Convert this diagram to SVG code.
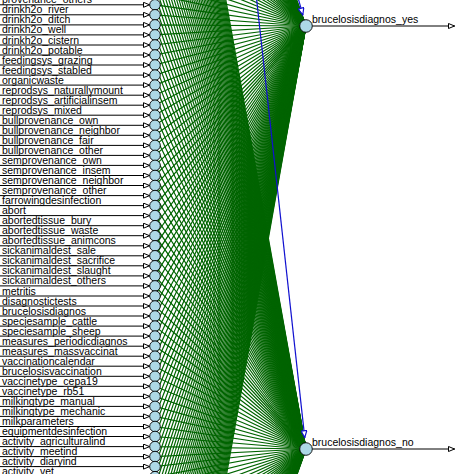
<svg xmlns="http://www.w3.org/2000/svg" width="474" height="474" viewBox="0 0 474 474">
<style>
.lbl{font-family:"Liberation Sans",Arial,sans-serif;font-size:10.5px;fill:#000}
.in{fill:#add8e6;stroke:#000;stroke-width:0.9}
.ent{stroke:#000;stroke-width:1;fill:none}
.syn path{fill:none;stroke:#006400;stroke-width:1.2}
.bias{stroke:#1010d0;stroke-width:1.2;fill:none}
</style>
<defs>
<marker id="ah" viewBox="0 0 7 6" refX="7" refY="3" markerWidth="7" markerHeight="6" markerUnits="userSpaceOnUse" orient="auto">
<path d="M0.5 0.5L6.5 3L0.5 5.5Z" fill="#fff" stroke="#000" stroke-width="1"/>
</marker>
<marker id="bh" viewBox="0 0 8 7" refX="8" refY="3.5" markerWidth="8" markerHeight="7" markerUnits="userSpaceOnUse" orient="auto">
<path d="M0.6 0.6L7.4 3.5L0.6 6.4Z" fill="#fff" stroke="#1010d0" stroke-width="1.2"/>
</marker>
</defs>
<rect width="474" height="474" fill="#fff"/>
<g id="connectors">
<g class="syn">
<path d="M306 26L155 -396.8L306 449"/><path d="M306 26L155 -386.8L306 449"/><path d="M306 26L155 -376.7L306 449"/><path d="M306 26L155 -366.7L306 449"/>
<path d="M306 26L155 -356.6L306 449"/><path d="M306 26L155 -346.6L306 449"/><path d="M306 26L155 -336.6L306 449"/><path d="M306 26L155 -326.5L306 449"/>
<path d="M306 26L155 -316.5L306 449"/><path d="M306 26L155 -306.4L306 449"/><path d="M306 26L155 -296.4L306 449"/><path d="M306 26L155 -286.4L306 449"/>
<path d="M306 26L155 -276.3L306 449"/><path d="M306 26L155 -266.3L306 449"/><path d="M306 26L155 -256.2L306 449"/><path d="M306 26L155 -246.2L306 449"/>
<path d="M306 26L155 -236.2L306 449"/><path d="M306 26L155 -226.1L306 449"/><path d="M306 26L155 -216.1L306 449"/><path d="M306 26L155 -206.0L306 449"/>
<path d="M306 26L155 -196.0L306 449"/><path d="M306 26L155 -186.0L306 449"/><path d="M306 26L155 -175.9L306 449"/><path d="M306 26L155 -165.9L306 449"/>
<path d="M306 26L155 -155.8L306 449"/><path d="M306 26L155 -145.8L306 449"/><path d="M306 26L155 -135.8L306 449"/><path d="M306 26L155 -125.7L306 449"/>
<path d="M306 26L155 -115.7L306 449"/><path d="M306 26L155 -105.6L306 449"/><path d="M306 26L155 -95.6L306 449"/><path d="M306 26L155 -85.6L306 449"/>
<path d="M306 26L155 -75.5L306 449"/><path d="M306 26L155 -65.5L306 449"/><path d="M306 26L155 -55.4L306 449"/><path d="M306 26L155 -45.4L306 449"/>
<path d="M306 26L155 -35.4L306 449"/><path d="M306 26L155 -25.3L306 449"/><path d="M306 26L155 -15.3L306 449"/><path d="M306 26L155 -5.2L306 449"/>
<path d="M306 26L155 4.8L306 449"/><path d="M306 26L155 14.8L306 449"/><path d="M306 26L155 24.9L306 449"/><path d="M306 26L155 34.9L306 449"/>
<path d="M306 26L155 45.0L306 449"/><path d="M306 26L155 55.0L306 449"/><path d="M306 26L155 65.0L306 449"/><path d="M306 26L155 75.1L306 449"/>
<path d="M306 26L155 85.1L306 449"/><path d="M306 26L155 95.2L306 449"/><path d="M306 26L155 105.2L306 449"/><path d="M306 26L155 115.2L306 449"/>
<path d="M306 26L155 125.3L306 449"/><path d="M306 26L155 135.3L306 449"/><path d="M306 26L155 145.4L306 449"/><path d="M306 26L155 155.4L306 449"/>
<path d="M306 26L155 165.4L306 449"/><path d="M306 26L155 175.5L306 449"/><path d="M306 26L155 185.5L306 449"/><path d="M306 26L155 195.6L306 449"/>
<path d="M306 26L155 205.6L306 449"/><path d="M306 26L155 215.6L306 449"/><path d="M306 26L155 225.7L306 449"/><path d="M306 26L155 235.7L306 449"/>
<path d="M306 26L155 245.8L306 449"/><path d="M306 26L155 255.8L306 449"/><path d="M306 26L155 265.8L306 449"/><path d="M306 26L155 275.9L306 449"/>
<path d="M306 26L155 285.9L306 449"/><path d="M306 26L155 296.0L306 449"/><path d="M306 26L155 306.0L306 449"/><path d="M306 26L155 316.0L306 449"/>
<path d="M306 26L155 326.1L306 449"/><path d="M306 26L155 336.1L306 449"/><path d="M306 26L155 346.2L306 449"/><path d="M306 26L155 356.2L306 449"/>
<path d="M306 26L155 366.2L306 449"/><path d="M306 26L155 376.3L306 449"/><path d="M306 26L155 386.3L306 449"/><path d="M306 26L155 396.4L306 449"/>
<path d="M306 26L155 406.4L306 449"/><path d="M306 26L155 416.4L306 449"/><path d="M306 26L155 426.5L306 449"/><path d="M306 26L155 436.5L306 449"/>
<path d="M306 26L155 446.6L306 449"/><path d="M306 26L155 456.6L306 449"/><path d="M306 26L155 466.6L306 449"/><path d="M306 26L155 476.7L306 449"/>
<path d="M306 26L155 486.7L306 449"/><path d="M306 26L155 496.8L306 449"/><path d="M306 26L155 506.8L306 449"/><path d="M306 26L155 516.8L306 449"/>
<path d="M306 26L155 526.9L306 449"/><path d="M306 26L155 536.9L306 449"/><path d="M306 26L155 547.0L306 449"/><path d="M306 26L155 557.0L306 449"/>
<path d="M306 26L155 567.0L306 449"/><path d="M306 26L155 577.1L306 449"/><path d="M306 26L155 587.1L306 449"/><path d="M306 26L155 597.2L306 449"/>
<path d="M306 26L155 607.2L306 449"/><path d="M306 26L155 617.2L306 449"/><path d="M306 26L155 627.3L306 449"/><path d="M306 26L155 637.3L306 449"/>
<path d="M306 26L155 647.4L306 449"/><path d="M306 26L155 657.4L306 449"/><path d="M306 26L155 667.4L306 449"/><path d="M306 26L155 677.5L306 449"/>
<path d="M306 26L155 687.5L306 449"/><path d="M306 26L155 697.6L306 449"/><path d="M306 26L155 707.6L306 449"/><path d="M306 26L155 717.6L306 449"/>
<path d="M306 26L155 727.7L306 449"/><path d="M306 26L155 737.7L306 449"/><path d="M306 26L155 747.8L306 449"/><path d="M306 26L155 757.8L306 449"/>
<path d="M306 26L155 767.8L306 449"/><path d="M306 26L155 777.9L306 449"/><path d="M306 26L155 787.9L306 449"/><path d="M306 26L155 798.0L306 449"/>
<path d="M306 26L155 808.0L306 449"/><path d="M306 26L155 818.0L306 449"/><path d="M306 26L155 828.1L306 449"/><path d="M306 26L155 838.1L306 449"/>
<path d="M306 26L155 848.2L306 449"/><path d="M306 26L155 858.2L306 449"/><path d="M306 26L155 868.2L306 449"/><path d="M306 26L155 878.3L306 449"/>
</g>
<line class="bias" x1="230" y1="-243" x2="303" y2="15.4" marker-end="url(#bh)"/>
<line class="bias" x1="230" y1="-243" x2="304.8" y2="438.1" marker-end="url(#bh)"/>
</g>
<g id="inputs">
<g id="n0"><line class="ent" x1="-5" y1="4.8" x2="150" y2="4.8" marker-end="url(#ah)"/><text class="lbl" x="2" y="3.3">provenance_others</text><circle class="in" cx="155" cy="4.8" r="5.3"/></g>
<g id="n1"><line class="ent" x1="-5" y1="14.8" x2="150" y2="14.8" marker-end="url(#ah)"/><text class="lbl" x="2" y="13.3">drinkh2o_river</text><circle class="in" cx="155" cy="14.8" r="5.3"/></g>
<g id="n2"><line class="ent" x1="-5" y1="24.9" x2="150" y2="24.9" marker-end="url(#ah)"/><text class="lbl" x="2" y="23.4">drinkh2o_ditch</text><circle class="in" cx="155" cy="24.9" r="5.3"/></g>
<g id="n3"><line class="ent" x1="-5" y1="34.9" x2="150" y2="34.9" marker-end="url(#ah)"/><text class="lbl" x="2" y="33.4">drinkh2o_well</text><circle class="in" cx="155" cy="34.9" r="5.3"/></g>
<g id="n4"><line class="ent" x1="-5" y1="45.0" x2="150" y2="45.0" marker-end="url(#ah)"/><text class="lbl" x="2" y="43.5">drinkh2o_cistern</text><circle class="in" cx="155" cy="45.0" r="5.3"/></g>
<g id="n5"><line class="ent" x1="-5" y1="55.0" x2="150" y2="55.0" marker-end="url(#ah)"/><text class="lbl" x="2" y="53.5">drinkh2o_potable</text><circle class="in" cx="155" cy="55.0" r="5.3"/></g>
<g id="n6"><line class="ent" x1="-5" y1="65.0" x2="150" y2="65.0" marker-end="url(#ah)"/><text class="lbl" x="2" y="63.5">feedingsys_grazing</text><circle class="in" cx="155" cy="65.0" r="5.3"/></g>
<g id="n7"><line class="ent" x1="-5" y1="75.1" x2="150" y2="75.1" marker-end="url(#ah)"/><text class="lbl" x="2" y="73.6">feedingsys_stabled</text><circle class="in" cx="155" cy="75.1" r="5.3"/></g>
<g id="n8"><line class="ent" x1="-5" y1="85.1" x2="150" y2="85.1" marker-end="url(#ah)"/><text class="lbl" x="2" y="83.6">organicwaste</text><circle class="in" cx="155" cy="85.1" r="5.3"/></g>
<g id="n9"><line class="ent" x1="-5" y1="95.2" x2="150" y2="95.2" marker-end="url(#ah)"/><text class="lbl" x="2" y="93.7">reprodsys_naturallymount</text><circle class="in" cx="155" cy="95.2" r="5.3"/></g>
<g id="n10"><line class="ent" x1="-5" y1="105.2" x2="150" y2="105.2" marker-end="url(#ah)"/><text class="lbl" x="2" y="103.7">reprodsys_artificialinsem</text><circle class="in" cx="155" cy="105.2" r="5.3"/></g>
<g id="n11"><line class="ent" x1="-5" y1="115.2" x2="150" y2="115.2" marker-end="url(#ah)"/><text class="lbl" x="2" y="113.7">reprodsys_mixed</text><circle class="in" cx="155" cy="115.2" r="5.3"/></g>
<g id="n12"><line class="ent" x1="-5" y1="125.3" x2="150" y2="125.3" marker-end="url(#ah)"/><text class="lbl" x="2" y="123.8">bullprovenance_own</text><circle class="in" cx="155" cy="125.3" r="5.3"/></g>
<g id="n13"><line class="ent" x1="-5" y1="135.3" x2="150" y2="135.3" marker-end="url(#ah)"/><text class="lbl" x="2" y="133.8">bullprovenance_neighbor</text><circle class="in" cx="155" cy="135.3" r="5.3"/></g>
<g id="n14"><line class="ent" x1="-5" y1="145.4" x2="150" y2="145.4" marker-end="url(#ah)"/><text class="lbl" x="2" y="143.9">bullprovenance_fair</text><circle class="in" cx="155" cy="145.4" r="5.3"/></g>
<g id="n15"><line class="ent" x1="-5" y1="155.4" x2="150" y2="155.4" marker-end="url(#ah)"/><text class="lbl" x="2" y="153.9">bullprovenance_other</text><circle class="in" cx="155" cy="155.4" r="5.3"/></g>
<g id="n16"><line class="ent" x1="-5" y1="165.4" x2="150" y2="165.4" marker-end="url(#ah)"/><text class="lbl" x="2" y="163.9">semprovenance_own</text><circle class="in" cx="155" cy="165.4" r="5.3"/></g>
<g id="n17"><line class="ent" x1="-5" y1="175.5" x2="150" y2="175.5" marker-end="url(#ah)"/><text class="lbl" x="2" y="174.0">semprovenance_insem</text><circle class="in" cx="155" cy="175.5" r="5.3"/></g>
<g id="n18"><line class="ent" x1="-5" y1="185.5" x2="150" y2="185.5" marker-end="url(#ah)"/><text class="lbl" x="2" y="184.0">semprovenance_neighbor</text><circle class="in" cx="155" cy="185.5" r="5.3"/></g>
<g id="n19"><line class="ent" x1="-5" y1="195.6" x2="150" y2="195.6" marker-end="url(#ah)"/><text class="lbl" x="2" y="194.1">semprovenance_other</text><circle class="in" cx="155" cy="195.6" r="5.3"/></g>
<g id="n20"><line class="ent" x1="-5" y1="205.6" x2="150" y2="205.6" marker-end="url(#ah)"/><text class="lbl" x="2" y="204.1">farrowingdesinfection</text><circle class="in" cx="155" cy="205.6" r="5.3"/></g>
<g id="n21"><line class="ent" x1="-5" y1="215.6" x2="150" y2="215.6" marker-end="url(#ah)"/><text class="lbl" x="2" y="214.1">abort</text><circle class="in" cx="155" cy="215.6" r="5.3"/></g>
<g id="n22"><line class="ent" x1="-5" y1="225.7" x2="150" y2="225.7" marker-end="url(#ah)"/><text class="lbl" x="2" y="224.2">abortedtissue_bury</text><circle class="in" cx="155" cy="225.7" r="5.3"/></g>
<g id="n23"><line class="ent" x1="-5" y1="235.7" x2="150" y2="235.7" marker-end="url(#ah)"/><text class="lbl" x="2" y="234.2">abortedtissue_waste</text><circle class="in" cx="155" cy="235.7" r="5.3"/></g>
<g id="n24"><line class="ent" x1="-5" y1="245.8" x2="150" y2="245.8" marker-end="url(#ah)"/><text class="lbl" x="2" y="244.3">abortedtissue_animcons</text><circle class="in" cx="155" cy="245.8" r="5.3"/></g>
<g id="n25"><line class="ent" x1="-5" y1="255.8" x2="150" y2="255.8" marker-end="url(#ah)"/><text class="lbl" x="2" y="254.3">sickanimaldest_sale</text><circle class="in" cx="155" cy="255.8" r="5.3"/></g>
<g id="n26"><line class="ent" x1="-5" y1="265.8" x2="150" y2="265.8" marker-end="url(#ah)"/><text class="lbl" x="2" y="264.3">sickanimaldest_sacrifice</text><circle class="in" cx="155" cy="265.8" r="5.3"/></g>
<g id="n27"><line class="ent" x1="-5" y1="275.9" x2="150" y2="275.9" marker-end="url(#ah)"/><text class="lbl" x="2" y="274.4">sickanimaldest_slaught</text><circle class="in" cx="155" cy="275.9" r="5.3"/></g>
<g id="n28"><line class="ent" x1="-5" y1="285.9" x2="150" y2="285.9" marker-end="url(#ah)"/><text class="lbl" x="2" y="284.4">sickanimaldest_others</text><circle class="in" cx="155" cy="285.9" r="5.3"/></g>
<g id="n29"><line class="ent" x1="-5" y1="296.0" x2="150" y2="296.0" marker-end="url(#ah)"/><text class="lbl" x="2" y="294.5">metritis</text><circle class="in" cx="155" cy="296.0" r="5.3"/></g>
<g id="n30"><line class="ent" x1="-5" y1="306.0" x2="150" y2="306.0" marker-end="url(#ah)"/><text class="lbl" x="2" y="304.5">disagnostictests</text><circle class="in" cx="155" cy="306.0" r="5.3"/></g>
<g id="n31"><line class="ent" x1="-5" y1="316.0" x2="150" y2="316.0" marker-end="url(#ah)"/><text class="lbl" x="2" y="314.5">brucelosisdiagnos</text><circle class="in" cx="155" cy="316.0" r="5.3"/></g>
<g id="n32"><line class="ent" x1="-5" y1="326.1" x2="150" y2="326.1" marker-end="url(#ah)"/><text class="lbl" x="2" y="324.6">speciesample_cattle</text><circle class="in" cx="155" cy="326.1" r="5.3"/></g>
<g id="n33"><line class="ent" x1="-5" y1="336.1" x2="150" y2="336.1" marker-end="url(#ah)"/><text class="lbl" x="2" y="334.6">speciesample_sheep</text><circle class="in" cx="155" cy="336.1" r="5.3"/></g>
<g id="n34"><line class="ent" x1="-5" y1="346.2" x2="150" y2="346.2" marker-end="url(#ah)"/><text class="lbl" x="2" y="344.7">measures_periodicdiagnos</text><circle class="in" cx="155" cy="346.2" r="5.3"/></g>
<g id="n35"><line class="ent" x1="-5" y1="356.2" x2="150" y2="356.2" marker-end="url(#ah)"/><text class="lbl" x="2" y="354.7">measures_massvaccinat</text><circle class="in" cx="155" cy="356.2" r="5.3"/></g>
<g id="n36"><line class="ent" x1="-5" y1="366.2" x2="150" y2="366.2" marker-end="url(#ah)"/><text class="lbl" x="2" y="364.7">vaccinationcalendar</text><circle class="in" cx="155" cy="366.2" r="5.3"/></g>
<g id="n37"><line class="ent" x1="-5" y1="376.3" x2="150" y2="376.3" marker-end="url(#ah)"/><text class="lbl" x="2" y="374.8">brucelosisvaccination</text><circle class="in" cx="155" cy="376.3" r="5.3"/></g>
<g id="n38"><line class="ent" x1="-5" y1="386.3" x2="150" y2="386.3" marker-end="url(#ah)"/><text class="lbl" x="2" y="384.8">vaccinetype_cepa19</text><circle class="in" cx="155" cy="386.3" r="5.3"/></g>
<g id="n39"><line class="ent" x1="-5" y1="396.4" x2="150" y2="396.4" marker-end="url(#ah)"/><text class="lbl" x="2" y="394.9">vaccinetype_rb51</text><circle class="in" cx="155" cy="396.4" r="5.3"/></g>
<g id="n40"><line class="ent" x1="-5" y1="406.4" x2="150" y2="406.4" marker-end="url(#ah)"/><text class="lbl" x="2" y="404.9">milkingtype_manual</text><circle class="in" cx="155" cy="406.4" r="5.3"/></g>
<g id="n41"><line class="ent" x1="-5" y1="416.4" x2="150" y2="416.4" marker-end="url(#ah)"/><text class="lbl" x="2" y="414.9">milkingtype_mechanic</text><circle class="in" cx="155" cy="416.4" r="5.3"/></g>
<g id="n42"><line class="ent" x1="-5" y1="426.5" x2="150" y2="426.5" marker-end="url(#ah)"/><text class="lbl" x="2" y="425.0">milkparameters</text><circle class="in" cx="155" cy="426.5" r="5.3"/></g>
<g id="n43"><line class="ent" x1="-5" y1="436.5" x2="150" y2="436.5" marker-end="url(#ah)"/><text class="lbl" x="2" y="435.0">equipmentdesinfection</text><circle class="in" cx="155" cy="436.5" r="5.3"/></g>
<g id="n44"><line class="ent" x1="-5" y1="446.6" x2="150" y2="446.6" marker-end="url(#ah)"/><text class="lbl" x="2" y="445.1">activity_agriculturalind</text><circle class="in" cx="155" cy="446.6" r="5.3"/></g>
<g id="n45"><line class="ent" x1="-5" y1="456.6" x2="150" y2="456.6" marker-end="url(#ah)"/><text class="lbl" x="2" y="455.1">activity_meetind</text><circle class="in" cx="155" cy="456.6" r="5.3"/></g>
<g id="n46"><line class="ent" x1="-5" y1="466.6" x2="150" y2="466.6" marker-end="url(#ah)"/><text class="lbl" x="2" y="465.1">activity_diaryind</text><circle class="in" cx="155" cy="466.6" r="5.3"/></g>
<g id="n47"><line class="ent" x1="-5" y1="476.7" x2="150" y2="476.7" marker-end="url(#ah)"/><text class="lbl" x="2" y="475.2">activity_vet</text><circle class="in" cx="155" cy="476.7" r="5.3"/></g>
</g>
<g id="outputs">
<g id="out_yes"><line class="ent" x1="312.3" y1="26" x2="455" y2="26" marker-end="url(#ah)"/><text class="lbl" x="312" y="22.5">brucelosisdiagnos_yes</text><circle class="in" cx="306" cy="26" r="6.3"/></g>
<g id="out_no"><line class="ent" x1="312.3" y1="449" x2="455" y2="449" marker-end="url(#ah)"/><text class="lbl" x="312" y="445.5">brucelosisdiagnos_no</text><circle class="in" cx="306" cy="449" r="6.3"/></g>
</g>
</svg>
